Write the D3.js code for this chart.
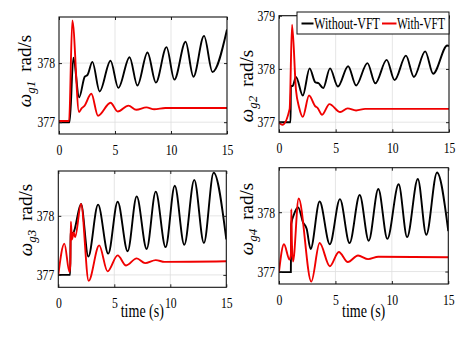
<!DOCTYPE html>
<html><head><meta charset="utf-8">
<script src="https://cdn.jsdelivr.net/npm/d3@7"></script>
<style>
body{margin:0;background:#fff;}
text{font-family:"Liberation Serif","Times New Roman",serif;fill:#000;}
</style></head>
<body>
<script>
// ---- data (time in s, speed in rad/s) ----
const xTicks = [0, 5, 10, 15];
const yTicks12 = [377, 378];
const yTicks2 = [377, 378, 379];
const seriesNames = ["Without-VFT", "With-VFT"];
const yLabelSubs = ["g1", "g2", "g3", "g4"];

const blackT1 = [0, 0.95, 1.28, 1.8, 2.3, 2.55, 2.98, 3.63, 4.6, 5.3, 6.3, 7.0, 7.9, 8.65, 9.6, 10.3, 11.3, 12.0, 12.95, 13.7, 15];
const blackV1 = [377.0, 377.0, 378.09, 377.42, 377.77, 377.8, 378.02, 377.52, 378.04, 377.58, 378.1, 377.62, 378.18, 377.67, 378.27, 377.72, 378.36, 377.77, 378.46, 377.85, 378.57];
const redT1 = [0, 0.9, 1.19, 1.79, 2.0, 2.25, 2.89, 3.48, 4.6, 5.25, 6.2, 6.9, 7.8, 8.5, 9.5, 15];
const redV1 = [377.02, 377.02, 378.72, 377.17, 377.23, 377.27, 377.48, 377.11, 377.33, 377.18, 377.28, 377.21, 377.25, 377.22, 377.24, 377.24];

const blackT2 = [0, 1.02, 1.05, 1.2, 1.5, 2.1, 2.7, 3.2, 3.5, 3.9, 4.5, 5.2, 6.1, 6.8, 7.8, 8.5, 9.5, 10.2, 11.2, 11.9, 12.9, 13.6, 14.85, 15];
const blackV2 = [377.0, 377.0, 377.68, 377.68, 377.85, 377.5, 378.01, 377.75, 377.73, 377.64, 378.01, 377.67, 378.05, 377.69, 378.11, 377.73, 378.17, 377.79, 378.25, 377.85, 378.33, 377.91, 378.44, 378.43];
const redT2 = [0, 0.3, 0.94, 1.15, 1.5, 1.77, 2.1, 2.65, 3.2, 3.4, 3.8, 4.45, 5.4, 6.05, 6.8, 7.6, 15];
const redV2 = [376.99, 376.95, 377.25, 378.83, 377.6, 377.28, 377.1, 377.5, 377.3, 377.27, 377.14, 377.34, 377.19, 377.26, 377.22, 377.25, 377.25];

const blackT3 = [0, 1.06, 1.1, 1.35, 2.03, 2.68, 3.55, 4.46, 5.3, 6.19, 7.0, 7.89, 8.7, 9.58, 10.4, 11.25, 12.14, 13.0, 13.87, 15];
const blackV3 = [377.0, 377.0, 377.7, 377.72, 378.2, 377.31, 378.19, 377.36, 378.24, 377.4, 378.33, 377.44, 378.41, 377.47, 378.51, 377.51, 378.61, 377.54, 378.73, 377.6];
const redT3 = [0, 0.54, 1.0, 1.08, 1.12, 1.22, 1.37, 1.5, 2.03, 2.71, 3.65, 4.4, 5.3, 6.05, 7.0, 7.75, 8.7, 9.5, 15];
const redV3 = [377.0, 377.53, 377.05, 377.2, 377.9, 377.6, 377.72, 377.64, 378.2, 376.9, 377.5, 377.06, 377.33, 377.16, 377.28, 377.2, 377.25, 377.22, 377.23];

const blackT4 = [0, 1.05, 1.08, 1.3, 1.7, 2.13, 2.45, 2.8, 3.6, 4.5, 5.4, 6.25, 7.15, 7.95, 8.8, 9.6, 10.6, 11.35, 12.3, 13.05, 14.0, 15];
const blackV4 = [376.99, 376.99, 377.8, 377.95, 378.08, 377.83, 377.72, 377.38, 378.18, 377.46, 378.22, 377.48, 378.29, 377.52, 378.39, 377.55, 378.47, 377.58, 378.56, 377.62, 378.67, 377.68];
const redT4 = [0, 0.44, 0.94, 1.06, 1.09, 1.13, 1.24, 1.74, 2.86, 3.6, 4.5, 5.3, 6.1, 7.0, 7.9, 8.8, 15];
const redV4 = [377.0, 377.46, 377.2, 377.3, 378.05, 377.6, 377.17, 378.23, 376.83, 377.48, 377.09, 377.33, 377.16, 377.27, 377.21, 377.25, 377.24];

// ---- layout ----
const panels = [
  {l:59, r:227, t:17, b:134, yd:[376.8, 378.78], yt:yTicks12, bt:blackT1, bv:blackV1, rt:redT1, rv:redV1, sub:yLabelSubs[0], lx:31, lc:71, xlab:false},
  {l:279, r:449, t:15.7, b:132.3, yd:[376.81, 379], yt:yTicks2, bt:blackT2, bv:blackV2, rt:redT2, rv:redV2, sub:yLabelSubs[1], lx:253, lc:86, xlab:false},
  {l:58.3, r:226.3, t:171, b:287.3, yd:[376.79, 378.76], yt:yTicks12, bt:blackT3, bv:blackV3, rt:redT3, rv:redV3, sub:yLabelSubs[2], lx:32, lc:220, xlab:true},
  {l:279, r:448.3, t:167.7, b:284, yd:[376.79, 378.75], yt:yTicks12, bt:blackT4, bv:blackV4, rt:redT4, rv:redV4, sub:yLabelSubs[3], lx:253, lc:219, xlab:true}
];
const BLACK = "#000", RED = "#f00000";
const SQ = 0.78;
const svg = d3.select("body").append("svg").attr("width", 474).attr("height", 355);

panels.forEach((p, i) => {
  const x = d3.scaleLinear().domain([0, 15]).range([p.l, p.r]);
  const y = d3.scaleLinear().domain(p.yd).range([p.b, p.t]);
  const g = svg.append("g");
  // grid
  g.selectAll(".gx").data(xTicks.slice(1, -1)).enter().append("line")
    .attr("x1", d => x(d)).attr("x2", d => x(d)).attr("y1", p.t).attr("y2", p.b)
    .attr("stroke", "#dedede").attr("stroke-width", 0.8);
  g.selectAll(".gy").data(p.yt).enter().append("line")
    .attr("y1", d => y(d)).attr("y2", d => y(d)).attr("x1", p.l).attr("x2", p.r)
    .attr("stroke", "#dedede").attr("stroke-width", 0.8);
  // lines
  const cid = "clip" + i;
  svg.append("clipPath").attr("id", cid).append("rect")
    .attr("x", p.l).attr("y", p.t).attr("width", p.r - p.l).attr("height", p.b - p.t);
  const line = d3.line().x(d => x(d[0])).y(d => y(d[1])).curve(d3.curveMonotoneX);
  g.append("path").datum(d3.zip(p.bt, p.bv)).attr("d", line).attr("fill", "none")
    .attr("stroke", BLACK).attr("stroke-width", 1.9).attr("clip-path", `url(#${cid})`);
  g.append("path").datum(d3.zip(p.rt, p.rv)).attr("d", line).attr("fill", "none")
    .attr("stroke", RED).attr("stroke-width", 1.9).attr("clip-path", `url(#${cid})`);
  // axes
  const ax = g.append("g").attr("transform", `translate(0,${p.b})`)
    .call(d3.axisBottom(x).tickValues(xTicks).tickSizeInner(-3).tickSizeOuter(0).tickPadding(10).tickFormat(d3.format("d")));
  const ay = g.append("g").attr("transform", `translate(${p.l},0)`)
    .call(d3.axisLeft(y).tickValues(p.yt).tickSizeInner(-3).tickSizeOuter(0).tickPadding(4).tickFormat(d3.format("d")));
  const at = g.append("g").attr("transform", `translate(0,${p.t})`)
    .call(d3.axisTop(x).tickValues(xTicks).tickSizeInner(-3).tickSizeOuter(0).tickFormat(""));
  const ar = g.append("g").attr("transform", `translate(${p.r},0)`)
    .call(d3.axisRight(y).tickValues(p.yt).tickSizeInner(-3).tickSizeOuter(0).tickFormat(""));
  [ax, ay, at, ar].forEach(a => { a.select(".domain").remove(); a.selectAll("line").attr("stroke", "#222"); });
  [ax, ay].forEach(a => a.selectAll("text").attr("font-family", null).style("font-size", "15px").attr("fill", "#000"));
  ax.selectAll("text").attr("transform", `scale(${SQ},1)`);
  ay.selectAll("text").attr("x", -4 / SQ).attr("transform", `scale(${SQ},1)`);
  g.append("rect").attr("x", p.l).attr("y", p.t).attr("width", p.r - p.l).attr("height", p.b - p.t)
    .attr("fill", "none").attr("stroke", "#111").attr("stroke-width", 1.1);
  // y label
  const yl = g.append("text").attr("transform", `translate(${p.lx},${p.lc}) rotate(-90)`)
    .attr("text-anchor", "middle").style("font-size", "19px");
  yl.append("tspan").style("font-style", "italic").text("ω");
  yl.append("tspan").style("font-style", "italic").style("font-size", "13px").attr("dy", 4).text(p.sub);
  yl.append("tspan").attr("dy", -4).attr("dx", 9).text("rad/s");
  // x label
  if (p.xlab) {
    g.append("text").attr("transform", `translate(${(p.l + p.r) / 2},317) scale(${SQ},1)`)
      .attr("text-anchor", "middle").style("font-size", "18px").text("time (s)");
  }
});

// legend
const lg = svg.append("g");
lg.append("rect").attr("x", 297).attr("y", 12).attr("width", 152).attr("height", 22)
  .attr("fill", "#fff").attr("stroke", "#111").attr("stroke-width", 1);
const legendItems = [
  {name: seriesNames[0], color: BLACK, x1: 301.5, x2: 313.5, tx: 314, w: 66},
  {name: seriesNames[1], color: RED, x1: 382, x2: 396.5, tx: 397, w: 48}
];
legendItems.forEach(it => {
  lg.append("line").attr("x1", it.x1).attr("x2", it.x2).attr("y1", 23.5).attr("y2", 23.5)
    .attr("stroke", it.color).attr("stroke-width", 2);
  lg.append("text").attr("x", it.tx).attr("y", 29).style("font-size", "16px")
    .attr("textLength", it.w).attr("lengthAdjust", "spacingAndGlyphs").text(it.name);
});
</script>
</body></html>
